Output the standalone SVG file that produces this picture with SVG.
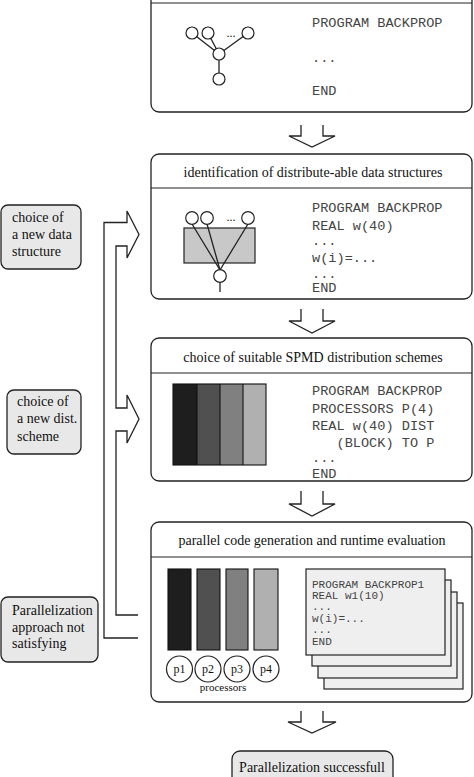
<svg xmlns="http://www.w3.org/2000/svg" width="474" height="777" viewBox="0 0 474 777">
<style>
.box{fill:#fff;stroke:#222;stroke-width:1.3}
.div{stroke:#222;stroke-width:1.2}
.hdr{font-family:"Liberation Serif",serif;font-size:14px;fill:#111;text-anchor:middle}
.lbl{font-family:"Liberation Serif",serif;font-size:14px;fill:#111}
.code{font-family:"Liberation Mono",monospace;font-size:13.6px;fill:#444}
.scode{font-family:"Liberation Mono",monospace;font-size:11px;fill:#444}
.node{fill:#fff;stroke:#222;stroke-width:1.2}
.edge{stroke:#222;stroke-width:1.3;fill:none}
.gray{fill:#e8e8e8;stroke:#222;stroke-width:1.3}
.conn{fill:none;stroke:#222;stroke-width:1.3}
.small{font-family:"Liberation Serif",serif;font-size:12px;fill:#111;text-anchor:middle}
</style>
<rect width="474" height="777" fill="#fff"/>

<g id="connectors">
<path class="conn" d="M138,638 H104 V222.5 H127 V211 L139,234.5 L127,258 V246 H116 V408 H127 V395 L139,419 L127,443 V431 H116 V615 H138"/>
<path class="conn" d="M301,125 V136 H289 L312,147 L335,136 H323 V125"/>
<path class="conn" d="M301,309 V321 H289 L312,333 L335,321 H323 V309"/>
<path class="conn" d="M301,491 V504 H289 L312,516 L335,504 H323 V491"/>
<path class="conn" d="M301,711 V722 H288 L312,733 L336,722 H323 V711"/>
</g>

<g id="box-program">
<rect class="box" x="151" y="-60" width="321" height="172" rx="8"/>
<line class="div" x1="151" y1="3" x2="472" y2="3"/>
<g class="edge">
<line x1="192" y1="33" x2="219" y2="54"/>
<line x1="208" y1="33" x2="219" y2="54"/>
<line x1="248" y1="33" x2="219" y2="54"/>
<line x1="219" y1="54" x2="219" y2="79"/>
</g>
<circle class="node" cx="192" cy="33" r="6"/>
<circle class="node" cx="208" cy="33" r="6"/>
<circle class="node" cx="248" cy="33" r="6"/>
<circle class="node" cx="219" cy="54" r="6"/>
<circle class="node" cx="219" cy="79" r="6"/>
<text class="small" x="231" y="37">...</text>
<text class="code" x="312" y="27">PROGRAM BACKPROP</text>
<text class="code" x="312" y="62">...</text>
<text class="code" x="312" y="95">END</text>
</g>

<g id="box-identification">
<rect class="box" x="151" y="154" width="321" height="145" rx="8"/>
<line class="div" x1="151" y1="188" x2="472" y2="188"/>
<text class="hdr" x="313" y="177">identification of distribute-able data structures</text>
<rect x="184" y="228" width="71" height="35" fill="#c8c8c8" stroke="#222" stroke-width="1.2"/>
<g class="edge">
<line x1="192" y1="224" x2="220" y2="270"/>
<line x1="207" y1="224" x2="220" y2="270"/>
<line x1="248" y1="224" x2="220" y2="270"/>
<line x1="220" y1="282" x2="220" y2="292"/>
</g>
<circle class="node" cx="192" cy="218" r="6.3"/>
<circle class="node" cx="207" cy="218" r="6.3"/>
<circle class="node" cx="248" cy="218" r="6.3"/>
<circle class="node" cx="220" cy="276" r="6.3"/>
<text class="small" x="231" y="221">...</text>
<text class="code" x="312" y="212">PROGRAM BACKPROP</text>
<text class="code" x="312" y="230">REAL w(40)</text>
<text class="code" x="312" y="245">...</text>
<text class="code" x="312" y="262">w(i)=...</text>
<text class="code" x="312" y="278">...</text>
<text class="code" x="312" y="292">END</text>
</g>

<g id="box-distribution">
<rect class="box" x="151" y="338" width="321" height="143" rx="8"/>
<line class="div" x1="151" y1="373" x2="472" y2="373"/>
<text class="hdr" x="313" y="362">choice of suitable SPMD distribution schemes</text>
<rect x="173" y="384" width="24" height="81" fill="#1e1e1e"/>
<rect x="197" y="384" width="23" height="81" fill="#505050"/>
<rect x="220" y="384" width="23" height="81" fill="#808080"/>
<rect x="243" y="384" width="23" height="81" fill="#b0b0b0"/>
<g stroke="#111" stroke-width="1.1" fill="none">
<rect x="173" y="384" width="93" height="81"/>
<line x1="197" y1="384" x2="197" y2="465"/>
<line x1="220" y1="384" x2="220" y2="465"/>
<line x1="243" y1="384" x2="243" y2="465"/>
</g>
<text class="code" x="312" y="395">PROGRAM BACKPROP</text>
<text class="code" x="312" y="413">PROCESSORS P(4)</text>
<text class="code" x="312" y="430">REAL w(40) DIST</text>
<text class="code" x="312" y="447" xml:space="preserve">   (BLOCK) TO P</text>
<text class="code" x="312" y="462">...</text>
<text class="code" x="312" y="478">END</text>
</g>

<g id="box-parallel">
<rect class="box" x="151" y="522" width="321" height="180" rx="8"/>
<line class="div" x1="151" y1="557" x2="472" y2="557"/>
<text class="hdr" x="312" y="545">parallel code generation and runtime evaluation</text>
<g stroke="#111" stroke-width="1.1">
<rect x="168" y="569" width="23" height="81" fill="#1e1e1e"/>
<rect x="197" y="569" width="23" height="81" fill="#505050"/>
<rect x="226" y="569" width="22" height="81" fill="#808080"/>
<rect x="254" y="569" width="24" height="81" fill="#b0b0b0"/>
</g>
<circle class="node" cx="179.5" cy="669" r="13"/>
<circle class="node" cx="208" cy="669" r="13"/>
<circle class="node" cx="237" cy="669" r="13"/>
<circle class="node" cx="266" cy="669" r="13"/>
<text class="small" x="179.5" y="673">p1</text>
<text class="small" x="208" y="673">p2</text>
<text class="small" x="237" y="673">p3</text>
<text class="small" x="266" y="673">p4</text>
<text class="small" x="223" y="691" style="font-size:11px">processors</text>
<g fill="#efefef" stroke="#222" stroke-width="1.2">
<rect x="324" y="603" width="139" height="86"/>
<rect x="318" y="592" width="139" height="86"/>
<rect x="312" y="580" width="139" height="86"/>
<rect x="306" y="569" width="139" height="86"/>
</g>
<text class="scode" x="312" y="588">PROGRAM BACKPROP1</text>
<text class="scode" x="312" y="599">REAL w1(10)</text>
<text class="scode" x="312" y="610">...</text>
<text class="scode" x="312" y="621.5">w(i)=...</text>
<text class="scode" x="312" y="633">...</text>
<text class="scode" x="312" y="644.5">END</text>
</g>

<g id="label-data-structure">
<rect class="gray" x="1" y="205" width="80" height="64" rx="7"/>
<text class="lbl" x="12" y="222">choice of</text>
<text class="lbl" x="12" y="239">a new data</text>
<text class="lbl" x="12" y="256">structure</text>
</g>

<g id="label-dist-scheme">
<rect class="gray" x="7" y="390" width="74" height="64" rx="7"/>
<text class="lbl" x="17" y="406">choice of</text>
<text class="lbl" x="17" y="423">a new dist.</text>
<text class="lbl" x="17" y="441">scheme</text>
</g>

<g id="label-not-satisfying">
<rect class="gray" x="1" y="597" width="97" height="65" rx="7"/>
<text class="lbl" x="12" y="615">Parallelization</text>
<text class="lbl" x="12" y="632">approach not</text>
<text class="lbl" x="12" y="648">satisfying</text>
</g>

<g id="label-successful">
<rect class="gray" x="232" y="751" width="161" height="50" rx="8"/>
<text class="hdr" x="312" y="772">Parallelization successfull</text>
</g>
</svg>
